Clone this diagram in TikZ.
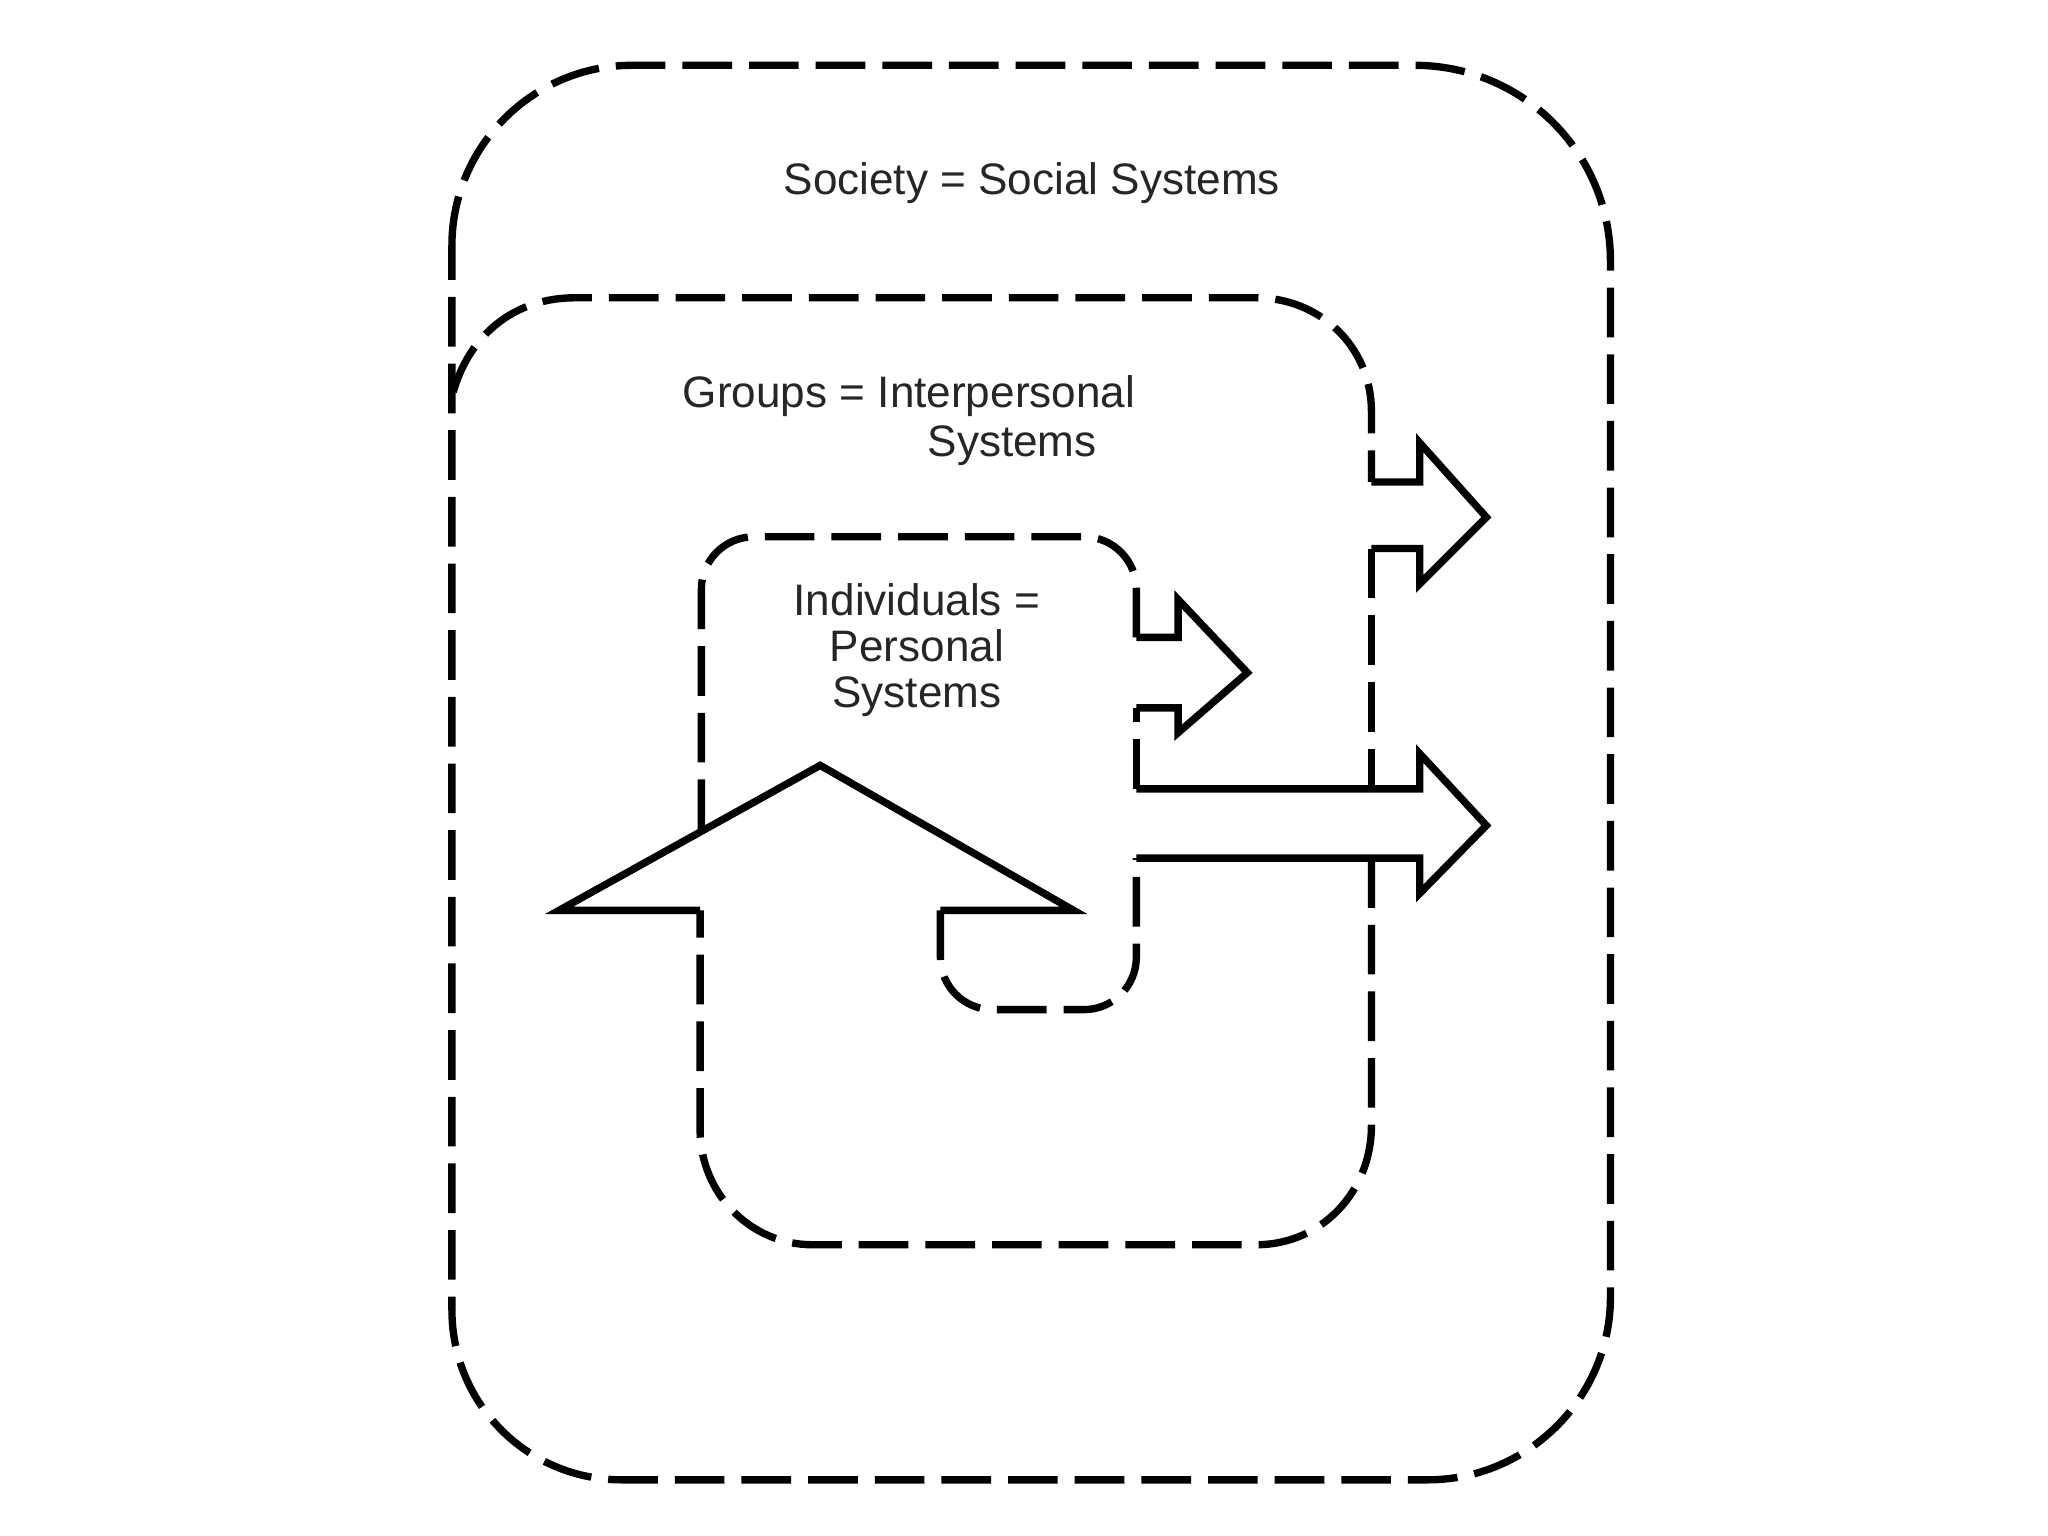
\documentclass[tikz,border=0pt]{standalone}
\usepackage{fontspec}
\setmainfont{Liberation Sans}
\begin{document}
\begin{tikzpicture}[x=0.01cm, y=-0.01cm,
  dashbox/.style={line width=1.6pt, dash pattern=on 0.38cm off 0.13cm, line cap=butt},
  solidarrow/.style={line width=1.6pt, line join=miter, miter limit=20},
  lbl/.style={font=\fontsize{9.6}{10}\selectfont, text=black!85, inner sep=0pt, align=center}]
\useasboundingbox (0,0) rectangle (1568,1176);
\fill[white] (0,0) rectangle (1568,1176);

% Society boundary
\draw[dashbox] (346,188) .. controls (346,112) and (408,50) .. (484,50) -- (1083,50)
  .. controls (1166,50) and (1233,117) .. (1233,200) -- (1233,993)
  .. controls (1233,1070) and (1170,1133) .. (1093,1133) -- (476,1133)
  .. controls (404,1133) and (346,1075) .. (346,1003) -- cycle;

% Groups boundary
\draw[dashbox] (347,300) .. controls (360,255) and (395,228) .. (440,228) -- (962,228)
  .. controls (1010,228) and (1050,265) .. (1050,315) -- (1050,369);
\draw[dashbox] (1050,420) -- (1050,604);
\draw[dashbox] (1050,657) -- (1050,862) .. controls (1050,912) and (1012,953) .. (962,953)
  -- (622,953) .. controls (574,953) and (536,913) .. (536,865) -- (536,697);

% Groups arrow
\draw[solidarrow] (1050,369) -- (1087,369) -- (1087,339) -- (1138,396) -- (1087,447) -- (1087,420) -- (1050,420);

% Up arrow
\draw[solidarrow] (536,697) -- (428,697) -- (628,586) -- (822,697) -- (720,697);

% Individuals boundary
\draw[dashbox] (720,697) -- (720,733) .. controls (720,755) and (738,773) .. (760,773) -- (830,773)
  .. controls (852,773) and (870,755) .. (870,733) -- (870,657);
\draw[dashbox] (870,604) -- (870,542);
\draw[dashbox] (870,488) -- (870,451) .. controls (870,429) and (852,411) .. (830,411) -- (577,411)
  .. controls (555,411) and (537,429) .. (537,451) -- (537,636);

% Big arrow to society
\draw[solidarrow] (870,657) -- (1087,657) -- (1087,684) -- (1138,632) -- (1087,577) -- (1087,604) -- (870,604);
% Small arrow from individuals
\draw[solidarrow] (870,542) -- (902,542) -- (902,561) -- (955,515) -- (902,459) -- (902,488) -- (870,488);

% Labels
\node[lbl] (society) at (790,140) {Society = Social Systems};
\node[lbl] (groups1) at (696,303) {Groups = Interpersonal};
\node[lbl] (groups2) at (775,341) {Systems};
\node[lbl] (indiv) at (702,498) {Individuals =\\Personal\\Systems};
\end{tikzpicture}
\end{document}
